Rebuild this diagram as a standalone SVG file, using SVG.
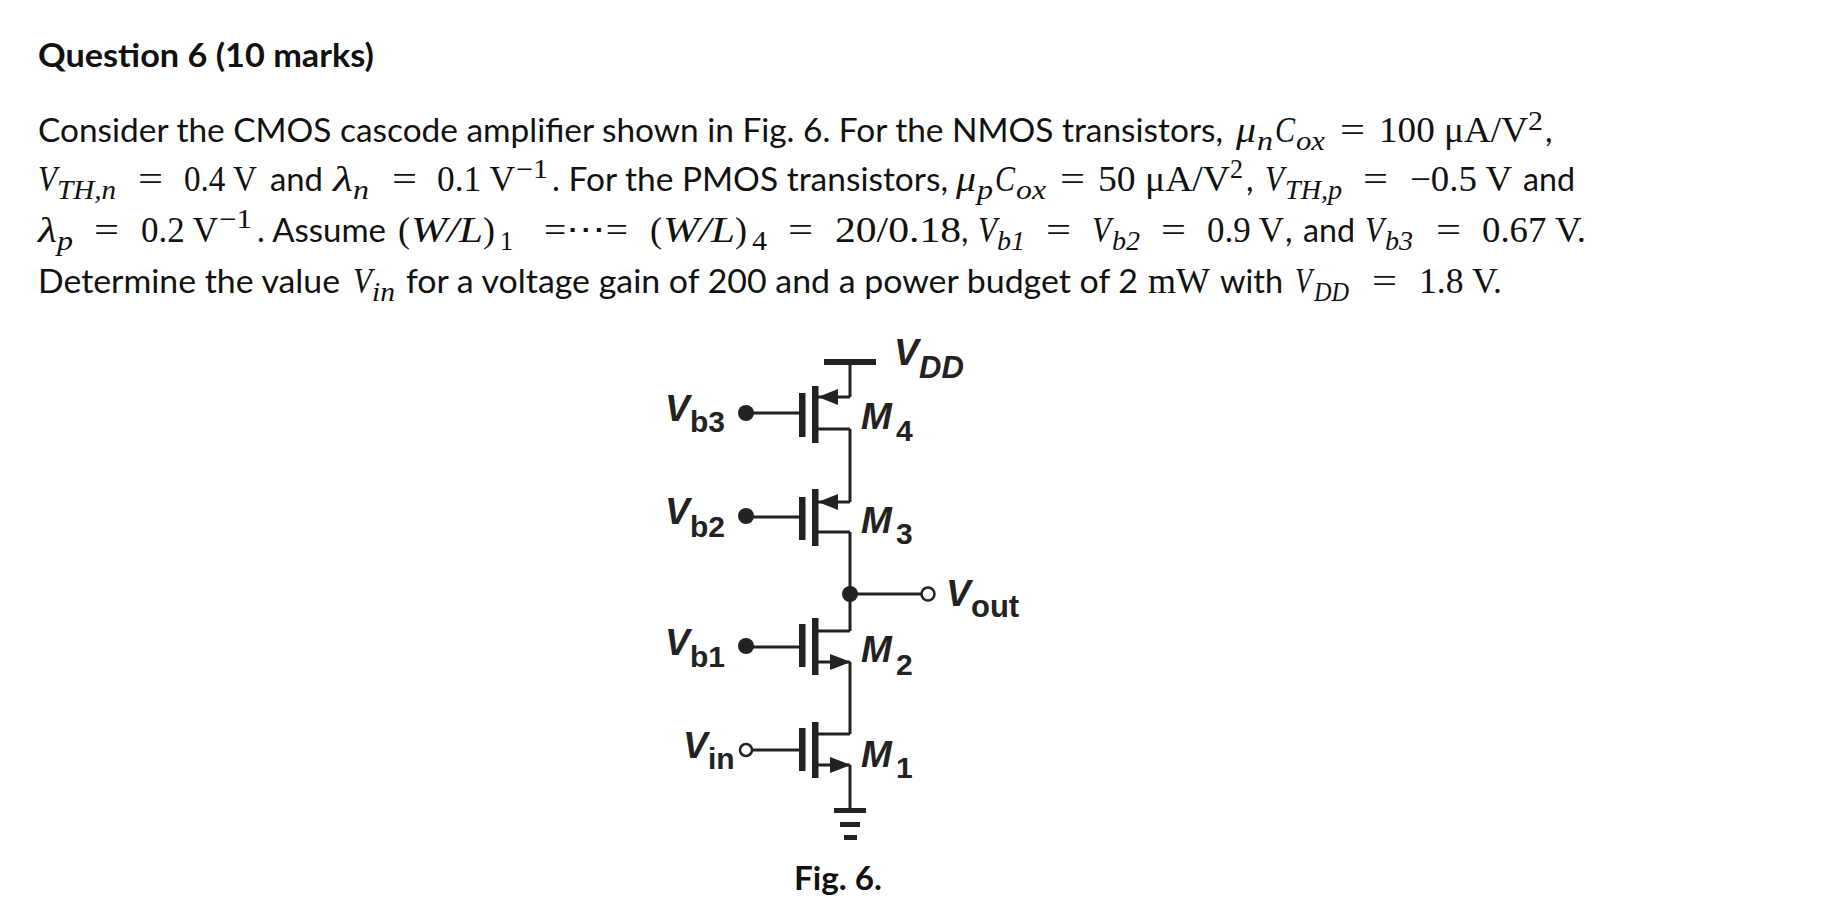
<svg xmlns="http://www.w3.org/2000/svg" width="1822" height="916" viewBox="0 0 1822 916">
<style>
text{fill:#111;white-space:pre}
.t{font:33px Lato,"Liberation Sans",sans-serif}
.h{font:bold 33px Lato,"Liberation Sans",sans-serif}
.m{font:36px "Liberation Serif",serif}
.i{font:italic 36px "Liberation Serif",serif}
.s{font:italic 27px "Liberation Serif",serif}
.u{font:27px "Liberation Serif",serif}
.L{font:italic bold 37px "Liberation Sans",Arial,sans-serif;fill:#222}
.S{font:bold 30px "Liberation Sans",Arial,sans-serif;fill:#222}
.SI{font:italic bold 31px "Liberation Sans",Arial,sans-serif;fill:#222}
.O{font:bold 31px "Liberation Sans",Arial,sans-serif;fill:#222}
.w{stroke:#222;stroke-width:3;fill:none}
.b{fill:#222}
.o{fill:#fff;stroke:#222;stroke-width:2.5}
</style>
<rect width="1822" height="916" fill="#fff"/>
<g id="question-text">
<text class="h" x="38" y="67" textLength="336" lengthAdjust="spacingAndGlyphs">Question 6 (10 marks)</text>
<text class="t" x="38" y="142" textLength="1185" lengthAdjust="spacingAndGlyphs">Consider the CMOS cascode amplifier shown in Fig. 6. For the NMOS transistors,</text>
<text class="i" x="1236" y="142" textLength="20" lengthAdjust="spacingAndGlyphs">μ</text><text class="s" x="1257" y="150" textLength="16" lengthAdjust="spacingAndGlyphs">n</text><text class="i" x="1275" y="142" textLength="20" lengthAdjust="spacingAndGlyphs">C</text><text class="s" x="1296" y="150" textLength="29" lengthAdjust="spacingAndGlyphs">ox</text>
<text class="m" x="1340" y="142" textLength="25" lengthAdjust="spacingAndGlyphs">=</text>
<text class="m" x="1379" y="142" textLength="149" lengthAdjust="spacingAndGlyphs">100 μA/V</text><text class="u" x="1528" y="130" textLength="15" lengthAdjust="spacingAndGlyphs">2</text><text class="t" x="1545" y="142">,</text>

<text class="i" x="38" y="191" textLength="19" lengthAdjust="spacingAndGlyphs">V</text><text class="s" x="57" y="199" textLength="59" lengthAdjust="spacingAndGlyphs">TH,n</text>
<text class="m" x="138" y="191" textLength="25" lengthAdjust="spacingAndGlyphs">=</text>
<text class="m" x="184" y="191" textLength="73" lengthAdjust="spacingAndGlyphs">0.4 V</text><text class="t" x="270" y="191" textLength="53" lengthAdjust="spacingAndGlyphs">and</text>
<text class="i" x="333" y="191" textLength="20" lengthAdjust="spacingAndGlyphs">λ</text><text class="s" x="353" y="199" textLength="16" lengthAdjust="spacingAndGlyphs">n</text>
<text class="m" x="392" y="191" textLength="25" lengthAdjust="spacingAndGlyphs">=</text>
<text class="m" x="437" y="191" textLength="78" lengthAdjust="spacingAndGlyphs">0.1 V</text><text class="u" x="516" y="178" textLength="32" lengthAdjust="spacingAndGlyphs">−1</text>
<text class="t" x="552" y="191" textLength="396" lengthAdjust="spacingAndGlyphs">. For the PMOS transistors,</text>
<text class="i" x="956" y="191" textLength="20" lengthAdjust="spacingAndGlyphs">μ</text><text class="s" x="977" y="199" textLength="16" lengthAdjust="spacingAndGlyphs">p</text><text class="i" x="995" y="191" textLength="20" lengthAdjust="spacingAndGlyphs">C</text><text class="s" x="1016" y="199" textLength="30" lengthAdjust="spacingAndGlyphs">ox</text>
<text class="m" x="1060" y="191" textLength="25" lengthAdjust="spacingAndGlyphs">=</text>
<text class="m" x="1098" y="191" textLength="132" lengthAdjust="spacingAndGlyphs">50 μA/V</text><text class="u" x="1230" y="178" textLength="13" lengthAdjust="spacingAndGlyphs">2</text><text class="t" x="1246" y="191">,</text>
<text class="i" x="1265" y="191" textLength="19" lengthAdjust="spacingAndGlyphs">V</text><text class="s" x="1285" y="199" textLength="57" lengthAdjust="spacingAndGlyphs">TH,p</text>
<text class="m" x="1363" y="191" textLength="25" lengthAdjust="spacingAndGlyphs">=</text>
<text class="m" x="1410" y="191" textLength="102" lengthAdjust="spacingAndGlyphs">−0.5 V</text><text class="t" x="1523" y="191" textLength="52" lengthAdjust="spacingAndGlyphs">and</text>

<text class="i" x="38" y="242" textLength="19" lengthAdjust="spacingAndGlyphs">λ</text><text class="s" x="57" y="250" textLength="16" lengthAdjust="spacingAndGlyphs">p</text>
<text class="m" x="94" y="242" textLength="25" lengthAdjust="spacingAndGlyphs">=</text>
<text class="m" x="141" y="242" textLength="77" lengthAdjust="spacingAndGlyphs">0.2 V</text><text class="u" x="219" y="228" textLength="33" lengthAdjust="spacingAndGlyphs">−1</text>
<text class="t" x="257" y="242" textLength="129" lengthAdjust="spacingAndGlyphs">. Assume</text>
<text class="m" x="398" y="242">(</text><text class="i" x="411" y="242" textLength="72" lengthAdjust="spacingAndGlyphs">W/L</text><text class="m" x="483" y="242">)</text><text class="u" x="500" y="250" textLength="13" lengthAdjust="spacingAndGlyphs">1</text>
<text class="m" x="544" y="242" textLength="84" lengthAdjust="spacingAndGlyphs">=⋯=</text>
<text class="m" x="650" y="242">(</text><text class="i" x="663" y="242" textLength="72" lengthAdjust="spacingAndGlyphs">W/L</text><text class="m" x="735" y="242">)</text><text class="u" x="752" y="250" textLength="15" lengthAdjust="spacingAndGlyphs">4</text>
<text class="m" x="788" y="242" textLength="25" lengthAdjust="spacingAndGlyphs">=</text>
<text class="m" x="835" y="242" textLength="126" lengthAdjust="spacingAndGlyphs">20/0.18</text><text class="t" x="961" y="242">,</text>
<text class="i" x="978" y="242" textLength="19" lengthAdjust="spacingAndGlyphs">V</text><text class="s" x="997" y="250" textLength="28" lengthAdjust="spacingAndGlyphs">b1</text>
<text class="m" x="1046" y="242" textLength="25" lengthAdjust="spacingAndGlyphs">=</text>
<text class="i" x="1092" y="242" textLength="19" lengthAdjust="spacingAndGlyphs">V</text><text class="s" x="1112" y="250" textLength="28" lengthAdjust="spacingAndGlyphs">b2</text>
<text class="m" x="1161" y="242" textLength="25" lengthAdjust="spacingAndGlyphs">=</text>
<text class="m" x="1207" y="242" textLength="77" lengthAdjust="spacingAndGlyphs">0.9 V</text><text class="t" x="1285" y="242">,</text><text class="t" x="1303" y="242" textLength="52" lengthAdjust="spacingAndGlyphs">and</text>
<text class="i" x="1365" y="242" textLength="19" lengthAdjust="spacingAndGlyphs">V</text><text class="s" x="1385" y="250" textLength="28" lengthAdjust="spacingAndGlyphs">b3</text>
<text class="m" x="1436" y="242" textLength="25" lengthAdjust="spacingAndGlyphs">=</text>
<text class="m" x="1482" y="242" textLength="104" lengthAdjust="spacingAndGlyphs">0.67 V.</text>

<text class="t" x="38" y="293" textLength="302" lengthAdjust="spacingAndGlyphs">Determine the value</text>
<text class="i" x="353" y="293" textLength="19" lengthAdjust="spacingAndGlyphs">V</text><text class="s" x="372" y="301" textLength="23" lengthAdjust="spacingAndGlyphs">in</text>
<text class="t" x="406" y="293" textLength="732" lengthAdjust="spacingAndGlyphs">for a voltage gain of 200 and a power budget of 2</text>
<text class="m" x="1148" y="293" textLength="62" lengthAdjust="spacingAndGlyphs">mW</text>
<text class="t" x="1220" y="293" textLength="63" lengthAdjust="spacingAndGlyphs">with</text>
<text class="i" x="1295" y="293" textLength="17" lengthAdjust="spacingAndGlyphs">V</text><text class="s" x="1314" y="301" textLength="35" lengthAdjust="spacingAndGlyphs">DD</text>
<text class="m" x="1372" y="293" textLength="25" lengthAdjust="spacingAndGlyphs">=</text>
<text class="m" x="1419" y="293" textLength="83" lengthAdjust="spacingAndGlyphs">1.8 V.</text>
</g>

<g id="connectors">
<path class="w" d="M850 362V397M850 429V502M850 532V631M850 662V734M850 765V810M850 594H921"/>
<path class="w" d="M746 413H802M746 517H802M746 647H802M752 750H802"/>
</g>

<g id="VDD">
<rect class="b" x="824" y="359" width="52" height="6"/>
<text class="L" x="894" y="365">V</text><text class="SI" x="919" y="378">DD</text>
</g>
<g id="M4">
<rect class="b" x="799" y="393" width="6.500" height="44"/><rect class="b" x="812" y="386" width="6.500" height="57"/>
<path class="w" d="M818 397H850M818 429H850"/><polygon class="b" points="818,397 838,389 838,405"/>
<text class="L" x="861" y="429">M</text><text class="S" x="896" y="441">4</text>
</g>
<g id="M3">
<rect class="b" x="799" y="497" width="6.500" height="43"/><rect class="b" x="812" y="489" width="6.500" height="57"/>
<path class="w" d="M818 502H850M818 532H850"/><polygon class="b" points="818,502 838,494 838,510"/>
<text class="L" x="861" y="533">M</text><text class="S" x="896" y="544">3</text>
</g>
<g id="M2">
<rect class="b" x="799" y="624" width="6.500" height="43"/><rect class="b" x="812" y="618" width="6.500" height="57"/>
<path class="w" d="M818 631H850M818 662H850"/><polygon class="b" points="851,662 830,654 830,670"/>
<text class="L" x="861" y="662">M</text><text class="S" x="896" y="675">2</text>
</g>
<g id="M1">
<rect class="b" x="799" y="728" width="6.500" height="43"/><rect class="b" x="812" y="722" width="6.500" height="56"/>
<path class="w" d="M818 734H850M818 765H850"/><polygon class="b" points="851,765 830,757 830,773"/>
<text class="L" x="861" y="767">M</text><text class="S" x="896" y="778">1</text>
</g>
<g id="ground">
<rect class="b" x="834" y="808" width="32" height="5"/><rect class="b" x="840" y="822" width="20" height="5"/><rect class="b" x="844" y="835" width="13" height="5"/>
</g>
<g id="Vb3"><circle class="b" cx="746" cy="413" r="8"/><text class="L" x="665" y="421">V</text><text class="S" x="690" y="432">b3</text></g>
<g id="Vb2"><circle class="b" cx="746" cy="516" r="8"/><text class="L" x="665" y="524">V</text><text class="S" x="690" y="537">b2</text></g>
<g id="Vb1"><circle class="b" cx="746" cy="646" r="8"/><text class="L" x="665" y="655">V</text><text class="S" x="690" y="667">b1</text></g>
<g id="Vin"><circle class="o" cx="746" cy="750" r="6"/><text class="L" x="683" y="758">V</text><text class="S" x="708" y="769">in</text></g>
<g id="Vout"><circle class="b" cx="850" cy="594" r="8"/><circle class="o" cx="928" cy="594" r="6.500"/><text class="L" x="946" y="606">V</text><text class="O" x="971" y="617">out</text></g>
<g id="caption"><text class="h" x="794" y="890" textLength="88" lengthAdjust="spacingAndGlyphs">Fig. 6.</text></g>
</svg>
